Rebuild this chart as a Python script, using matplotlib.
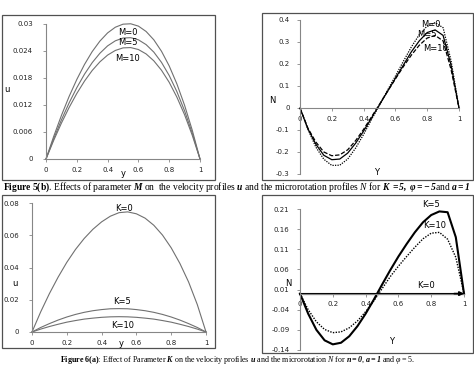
import matplotlib
matplotlib.use("Agg")
import matplotlib.pyplot as plt
from matplotlib.patches import Rectangle

plt.rcParams['font.family'] = ['DejaVu Sans']
plt.rcParams['mathtext.fontset'] = 'custom'
plt.rcParams['mathtext.rm'] = 'Liberation Serif'
plt.rcParams['mathtext.it'] = 'Liberation Serif:italic'
plt.rcParams['mathtext.bf'] = 'Liberation Serif:bold'
plt.rcParams['mathtext.bfit'] = 'Liberation Serif:italic:bold'

W, H = 474, 366

#%% data
y_pos = [0, .05, .1, .15, .2, .25, .3, .35, .4, .45, .5,
         .55, .6, .65, .7, .75, .8, .85, .9, .95, 1]

# fig 5(b) left: velocity u for M
u_M0 = [0, .00502, .00966, .01389, .01767, .02101, .02387, .02620, .02802, .02928, .02996,
        .03005, .02953, .02834, .02649, .02394, .02068, .01668, .01192, .00636, 0]
u_M5 = [0, .00451, .00867, .01246, .01585, .01885, .02141, .02350, .02514, .02626, .02688,
        .02696, .02649, .02542, .02376, .02147, .01855, .01496, .01069, .00571, 0]
u_M10 = [0, .00414, .00796, .01144, .01456, .01731, .01967, .02159, .02309, .02412, .02469,
         .02476, .02433, .02335, .02182, .01972, .01704, .01374, .00982, .00524, 0]

# fig 5(b) right: microrotation N for M
N_M0 = [0, -.097, -.178, -.233, -.261, -.260, -.232, -.182, -.120, -.052, .013,
        .080, .145, .212, .277, .333, .373, .388, .365, .215, 0]
N_M5 = [0, -.095, -.165, -.215, -.235, -.232, -.205, -.160, -.105, -.045, .015,
        .075, .135, .195, .255, .305, .343, .355, .330, .195, 0]
N_M10 = [0, -.092, -.155, -.200, -.217, -.213, -.190, -.148, -.097, -.040, .017,
         .075, .132, .188, .240, .285, .318, .330, .305, .175, 0]

# fig 6(a) left: velocity u for K
u_K0 = [0, .0125, .0238, .0340, .0432, .0512, .0580, .0637, .0683, .0718, .0740,
        .0745, .0733, .0706, .0662, .0601, .0522, .0425, .0310, .0170, 0]
u_K5 = [0, .0028, .0052, .0074, .0093, .0109, .0122, .0132, .0139, .0144, .0145,
        .0144, .0139, .0132, .0122, .0109, .0093, .0074, .0052, .0028, 0]
u_K10 = [0, .0018, .0034, .0048, .0061, .0071, .0080, .0086, .0091, .0094, .0095,
         .0094, .0091, .0086, .0080, .0071, .0061, .0048, .0034, .0018, 0]

# fig 6(a) right: microrotation N for K
N_K0 = [0, 0]
y_K0 = [0, 1]
N_K5 = [0, -.050, -.090, -.116, -.126, -.122, -.106, -.081, -.050, -.015, .022,
        .058, .092, .123, .152, .177, .195, .204, .202, .140, 0]
N_K10 = [0, -.040, -.070, -.089, -.097, -.095, -.085, -.068, -.045, -.018, .012,
         .042, .068, .092, .115, .136, .150, .152, .135, .090, 0]

x_ticks = [0, .2, .4, .6, .8, 1]
x_labels = ["0", "0.2", "0.4", "0.6", "0.8", "1"]
u5_ticks = [0, .006, .012, .018, .024, .03]
u5_labels = ["0", "0.006", "0.012", "0.018", "0.024", "0.03"]
N5_ticks = [-.3, -.2, -.1, 0, .1, .2, .3, .4]
N5_labels = ["-0.3", "-0.2", "-0.1", "0", "0.1", "0.2", "0.3", "0.4"]
u6_ticks = [0, .02, .04, .06, .08]
u6_labels = ["0", "0.02", "0.04", "0.06", "0.08"]
N6_ticks = [-.14, -.09, -.04, .01, .06, .11, .16, .21]
N6_labels = ["-0.14", "-0.09", "-0.04", "0.01", "0.06", "0.11", "0.16", "0.21"]

#%% figure
fig = plt.figure(figsize=(W / 100, H / 100), dpi=100)
fig.patch.set_facecolor('white')

axis_col = '#868686'


def px_axes(x0, x1, ytop, ybot):
    return fig.add_axes([x0 / W, 1 - ybot / H, (x1 - x0) / W, (ybot - ytop) / H])


def style(ax, ypad):
    for s in ['top', 'right']:
        ax.spines[s].set_visible(False)
    for s in ['left', 'bottom']:
        ax.spines[s].set_color(axis_col)
        ax.spines[s].set_linewidth(0.8)
    ax.tick_params(axis='both', direction='out', length=2.5, width=0.6,
                   color=axis_col, labelsize=5, labelcolor='#222222')
    ax.tick_params(axis='y', pad=ypad)
    ax.tick_params(axis='x', pad=3)
    ax.patch.set_alpha(0)


def fig_text(x, y, s, **kw):
    fig.text(x / W, 1 - y / H, s, ha='center', va='center', **kw)


def border(x0, y0, x1, y1):
    fig.add_artist(Rectangle((x0 / W, 1 - y1 / H), (x1 - x0) / W, (y1 - y0) / H,
                             transform=fig.transFigure, fill=False,
                             ec='#505050', lw=0.9))


border(1.5, 15, 215, 180)
border(262, 13, 473, 180)
border(1.5, 195, 215, 348)
border(262, 195, 473, 353)

# panel 1
ax1 = px_axes(46, 200, 24, 159)
style(ax1, 7)
ax1.set_xlim(0, 1)
ax1.set_ylim(0, 0.03)
ax1.set_xticks(x_ticks, x_labels)
ax1.set_yticks(u5_ticks, u5_labels)
for u in (u_M0, u_M5, u_M10):
    ax1.plot(y_pos, u, color='#707070', lw=0.8, clip_on=False)
for lab, yy in (("M=0", .0282), ("M=5", .0258), ("M=10", .02244)):
    ax1.text(0.532, yy, lab, fontsize=6, ha='center', va='center')
fig_text(7, 89, "u", fontsize=6)
fig_text(123, 173, "y", fontsize=6)

# panel 2
ax2 = px_axes(300, 459, 20, 174)
style(ax2, 5)
ax2.spines['bottom'].set_position(('data', 0))
ax2.set_xlim(0, 1)
ax2.set_ylim(-0.3, 0.4)
ax2.set_xticks(x_ticks, x_labels)
ax2.set_yticks(N5_ticks, N5_labels)
ax2.plot(y_pos, N_M0, color='k', lw=0.9, ls=(0, (1, 1)), clip_on=False)
ax2.plot(y_pos, N_M5, color='k', lw=0.9, clip_on=False)
ax2.plot(y_pos, N_M10, color='k', lw=0.9, ls=(0, (3.5, 1.5)), clip_on=False)
for lab, xx, yy in (("M=0", .82, .38), ("M=5", .80, .336), ("M=10", .85, .27)):
    ax2.text(xx, yy, lab, fontsize=6, ha='center', va='center')
fig_text(272, 100, "N", fontsize=6)
fig_text(377, 172, "Y", fontsize=6)

# panel 3
ax3 = px_axes(32, 206, 203, 332)
style(ax3, 7)
ax3.set_xlim(0, 1)
ax3.set_ylim(0, 0.08)
ax3.set_xticks(x_ticks, x_labels)
ax3.set_yticks(u6_ticks, u6_labels)
for u in (u_K0, u_K5, u_K10):
    ax3.plot(y_pos, u, color='#707070', lw=0.8, clip_on=False)
for lab, xx, yy in (("K=0", .53, .0763), ("K=5", .52, .019), ("K=10", .52, .0043)):
    ax3.text(xx, yy, lab, fontsize=6, ha='center', va='center')
fig_text(15, 284, "u", fontsize=6)
fig_text(121, 344, "y", fontsize=6)

# panel 4
ax4 = px_axes(300, 464, 209, 350)
style(ax4, 5)
ax4.spines['bottom'].set_position(('data', 0))
ax4.set_xlim(0, 1)
ax4.set_ylim(-0.14, 0.21)
ax4.set_xticks(x_ticks, x_labels)
ax4.set_yticks(N6_ticks, N6_labels)
ax4.plot(y_K0, N_K0, color='k', lw=1.5, clip_on=False)
ax4.annotate("", xy=(y_K0[-1], N_K0[-1]), xytext=(y_K0[-1] - 0.06, N_K0[-1]),
             arrowprops=dict(arrowstyle='-|>', color='k', lw=1.2,
                             mutation_scale=6, shrinkA=0, shrinkB=0))
ax4.plot(y_pos, N_K5, color='k', lw=1.5, clip_on=False)
ax4.plot(y_pos, N_K10, color='k', lw=1.0, ls=(0, (1, 1)), clip_on=False)
for lab, xx, yy in (("K=5", .80, .222), ("K=10", .82, .168), ("K=0", .77, .021)):
    ax4.text(xx, yy, lab, fontsize=6, ha='center', va='center')
fig_text(288, 284, "N", fontsize=6)
fig_text(392, 342, "Y", fontsize=6)

# captions
cap1 = (r"$\mathbf{Figure\ 5(b)}$. Effects of parameter $\mathbfit{M}$ on  the velocity "
        r"profiles $\mathbfit{u}$ and the microrotation profiles $\mathit{N}$ for "
        r"$\mathbfit{K\ =5,\ φ=\!-5}$and $\mathbfit{a=1}$")
cap2 = (r"$\mathbf{Figure\ 6(a)}$: Effect of Parameter $\mathbfit{K}$ on the velocity "
        r"profiles $\mathbfit{u}$ and the microrotation $\mathit{N}$ for "
        r"$\mathbfit{n=0}$, $\mathbfit{a=1}$ and $\mathit{φ=5}$.")
fig_text(237, 187, cap1, fontsize=6.85, family='Liberation Serif')
fig_text(237, 360, cap2, fontsize=5.75, family='Liberation Serif')

plt.savefig("out.png", dpi=100)
